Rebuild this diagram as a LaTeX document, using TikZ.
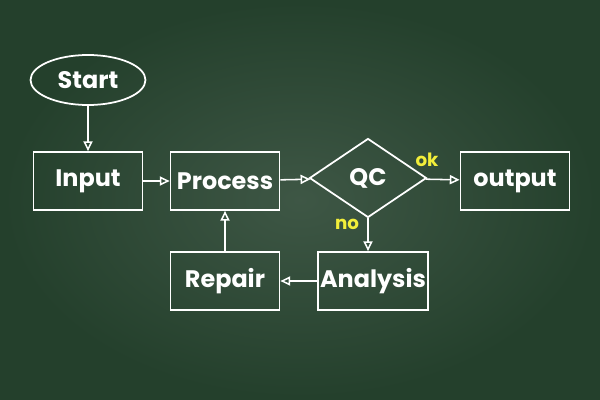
\documentclass[tikz,border=0pt]{standalone}
\usepackage{fontspec}
\setmainfont{Poppins}
\usetikzlibrary{shapes.geometric,arrows.meta}
\definecolor{board}{HTML}{24402C}
\definecolor{chalky}{HTML}{F2EE3A}
\begin{document}
\begin{tikzpicture}[x=0.05cm,y=-0.05cm,
  box/.style={draw=white,line width=2.5pt,minimum width=5.45cm,minimum height=2.9cm,text=white,font=\fontsize{34}{40}\selectfont\bfseries},
  link/.style={draw=white,line width=2.2pt,-{Triangle[open,length=14pt,width=13pt]}},
  lab/.style={text=chalky,font=\fontsize{26}{30}\selectfont\bfseries}]
\fill[board] (0,0) rectangle (600,400);
\shade[inner color=board!70!white!80!board,outer color=board,opacity=0.5] (0,0) rectangle (600,400);
\node[box,ellipse,minimum width=5.75cm,minimum height=2.5cm] (start) at (88,80) {Start};
\node[box] (input) at (88,181) {Input};
\node[box] (process) at (225,181) {Process};
\node[box,diamond,aspect=1.5,minimum width=5.85cm,minimum height=3.95cm,inner sep=0pt] (qc) at (368,178) {QC};
\node[box] (output) at (515,181) {output};
\node[box] (repair) at (225,281) {Repair};
\node[box] (analysis) at (373,281) {Analysis};
\node[lab] (ok) at (427,160) {ok};
\node[lab] (no) at (347,224) {no};
\draw[link] (start) -- (input);
\draw[link] (input) -- (process);
\draw[link] (process) -- (qc);
\draw[link] (qc) -- (output);
\draw[link] (qc.south) -- (qc.south |- analysis.north);
\draw[link] (analysis) -- (repair);
\draw[link] (repair) -- (process);
\end{tikzpicture}
\end{document}
